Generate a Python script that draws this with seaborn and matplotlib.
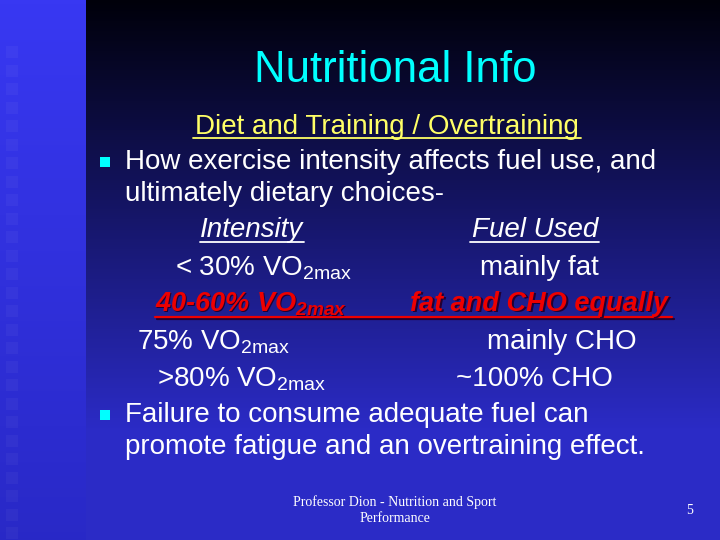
import numpy as np
import matplotlib
matplotlib.use("Agg")
import matplotlib.pyplot as plt
import seaborn as sns
from matplotlib.patches import Rectangle

sns.set_theme(style="white")
plt.rcParams['font.family'] = ['Liberation Sans', 'DejaVu Sans']
plt.rcParams['mathtext.fontset'] = 'custom'
plt.rcParams['mathtext.rm'] = 'Liberation Sans'
plt.rcParams['mathtext.it'] = 'Liberation Sans:italic'
plt.rcParams['mathtext.bf'] = 'Liberation Sans:bold:italic'

title = "Nutritional Info"
subtitle = "Diet and Training / Overtraining"
bullet1 = ["How exercise intensity affects fuel use, and", "ultimately dietary choices-"]
headers = ["Intensity", "Fuel Used"]
intensity = ["< 30% VO", "40-60% VO", "75% VO", ">80% VO"]
fuel = ["mainly fat", "fat and CHO equally", "mainly CHO", "~100% CHO"]
bullet2 = ["Failure to consume adequate fuel can", "promote fatigue and an overtraining effect."]
footer = ["Professor Dion - Nutrition and Sport", "Performance"]
page = "5"

fig = plt.figure(figsize=(7.2, 5.4), dpi=100)
ax = fig.add_axes([0, 0, 1, 1])
ax.set_xlim(0, 720)
ax.set_ylim(540, 0)
ax.axis("off")

# background: dark-to-blue gradient, bright blue left strip
t = np.linspace(0, 1, 256)[:, None]
top = np.array([0.0, 0.0, 0.04])
bot = np.array([0.17, 0.17, 0.78])
grad = top + (bot - top) * np.clip(t * 1.25, 0, 1)[..., None]
ax.imshow(np.repeat(grad, 2, axis=1), extent=(86, 720, 540, 0), aspect="auto", zorder=0)
st = np.array([0.22, 0.22, 0.95]) + (np.array([0.16, 0.16, 0.78]) - np.array([0.22, 0.22, 0.95])) * t[..., None]
ax.imshow(np.repeat(st, 2, axis=1), extent=(0, 86, 540, 0), aspect="auto", zorder=0)
for y in np.arange(46, 540, 18.5):
    ax.add_patch(Rectangle((6, y), 12, 12, color=(1, 1, 1, 0.035), lw=0, zorder=1))

white = "white"
ax.text(395, 70, title, color="#00ffff", fontsize=31.5, ha="center", va="center")
ax.text(387, 127, subtitle, color="#ffff66", fontsize=20, ha="center", va="center")
ax.plot([193, 581], [138, 138], color="#ffff66", lw=1.3)

main = dict(color=white, fontsize=20, va="center")
for y, s in zip([162, 415], [bullet1, bullet2]):
    ax.add_patch(Rectangle((100, y - 5), 10, 10, color="#00ffff", lw=0))
    ax.text(125, y, s[0], **main)
    ax.text(125, y + 32, s[1], **main)

ax.text(252, 230, headers[0], style="italic", ha="center", **main)
ax.text(535, 230, headers[1], style="italic", ha="center", **main)
ax.plot([200, 304], [242, 242], color=white, lw=1.3)
ax.plot([470, 599], [242, 242], color=white, lw=1.3)

rows_y = [268, 304, 342, 379]
xs_int = [175, 155, 137, 157]
xs_fuel = [480, 410, 487, 456]
for i, y in enumerate(rows_y):
    lab = intensity[i] + r"$_{\mathrm{2max}}$"
    if i == 1:
        red = "#ee0000"
        for dx, c in [(1.5, "#220033"), (0, red)]:
            ax.text(xs_int[i] + dx, y + dx, intensity[i] + r"$_{\mathbf{2max}}$", color=c,
                    fontsize=19.5, va="center", weight="bold", style="italic")
            ax.text(xs_fuel[i] + dx, y + dx, fuel[i], color=c, fontsize=19.5,
                    va="center", weight="bold", style="italic")
            ax.plot([155 + dx, 672 + dx], [317 + dx, 317 + dx], color=c, lw=1.6)
    else:
        ax.text(xs_int[i], y, lab, **main)
        ax.text(xs_fuel[i], y, fuel[i], **main)

ax.text(395, 502, footer[0], color=white, fontsize=10, ha="center", va="center", family="Liberation Serif")
ax.text(395, 519, footer[1], color=white, fontsize=10, ha="center", va="center", family="Liberation Serif")
ax.text(690, 510, page, color=white, fontsize=10, ha="center", va="center", family="Liberation Serif")

fig.savefig("out.png", dpi=100)
